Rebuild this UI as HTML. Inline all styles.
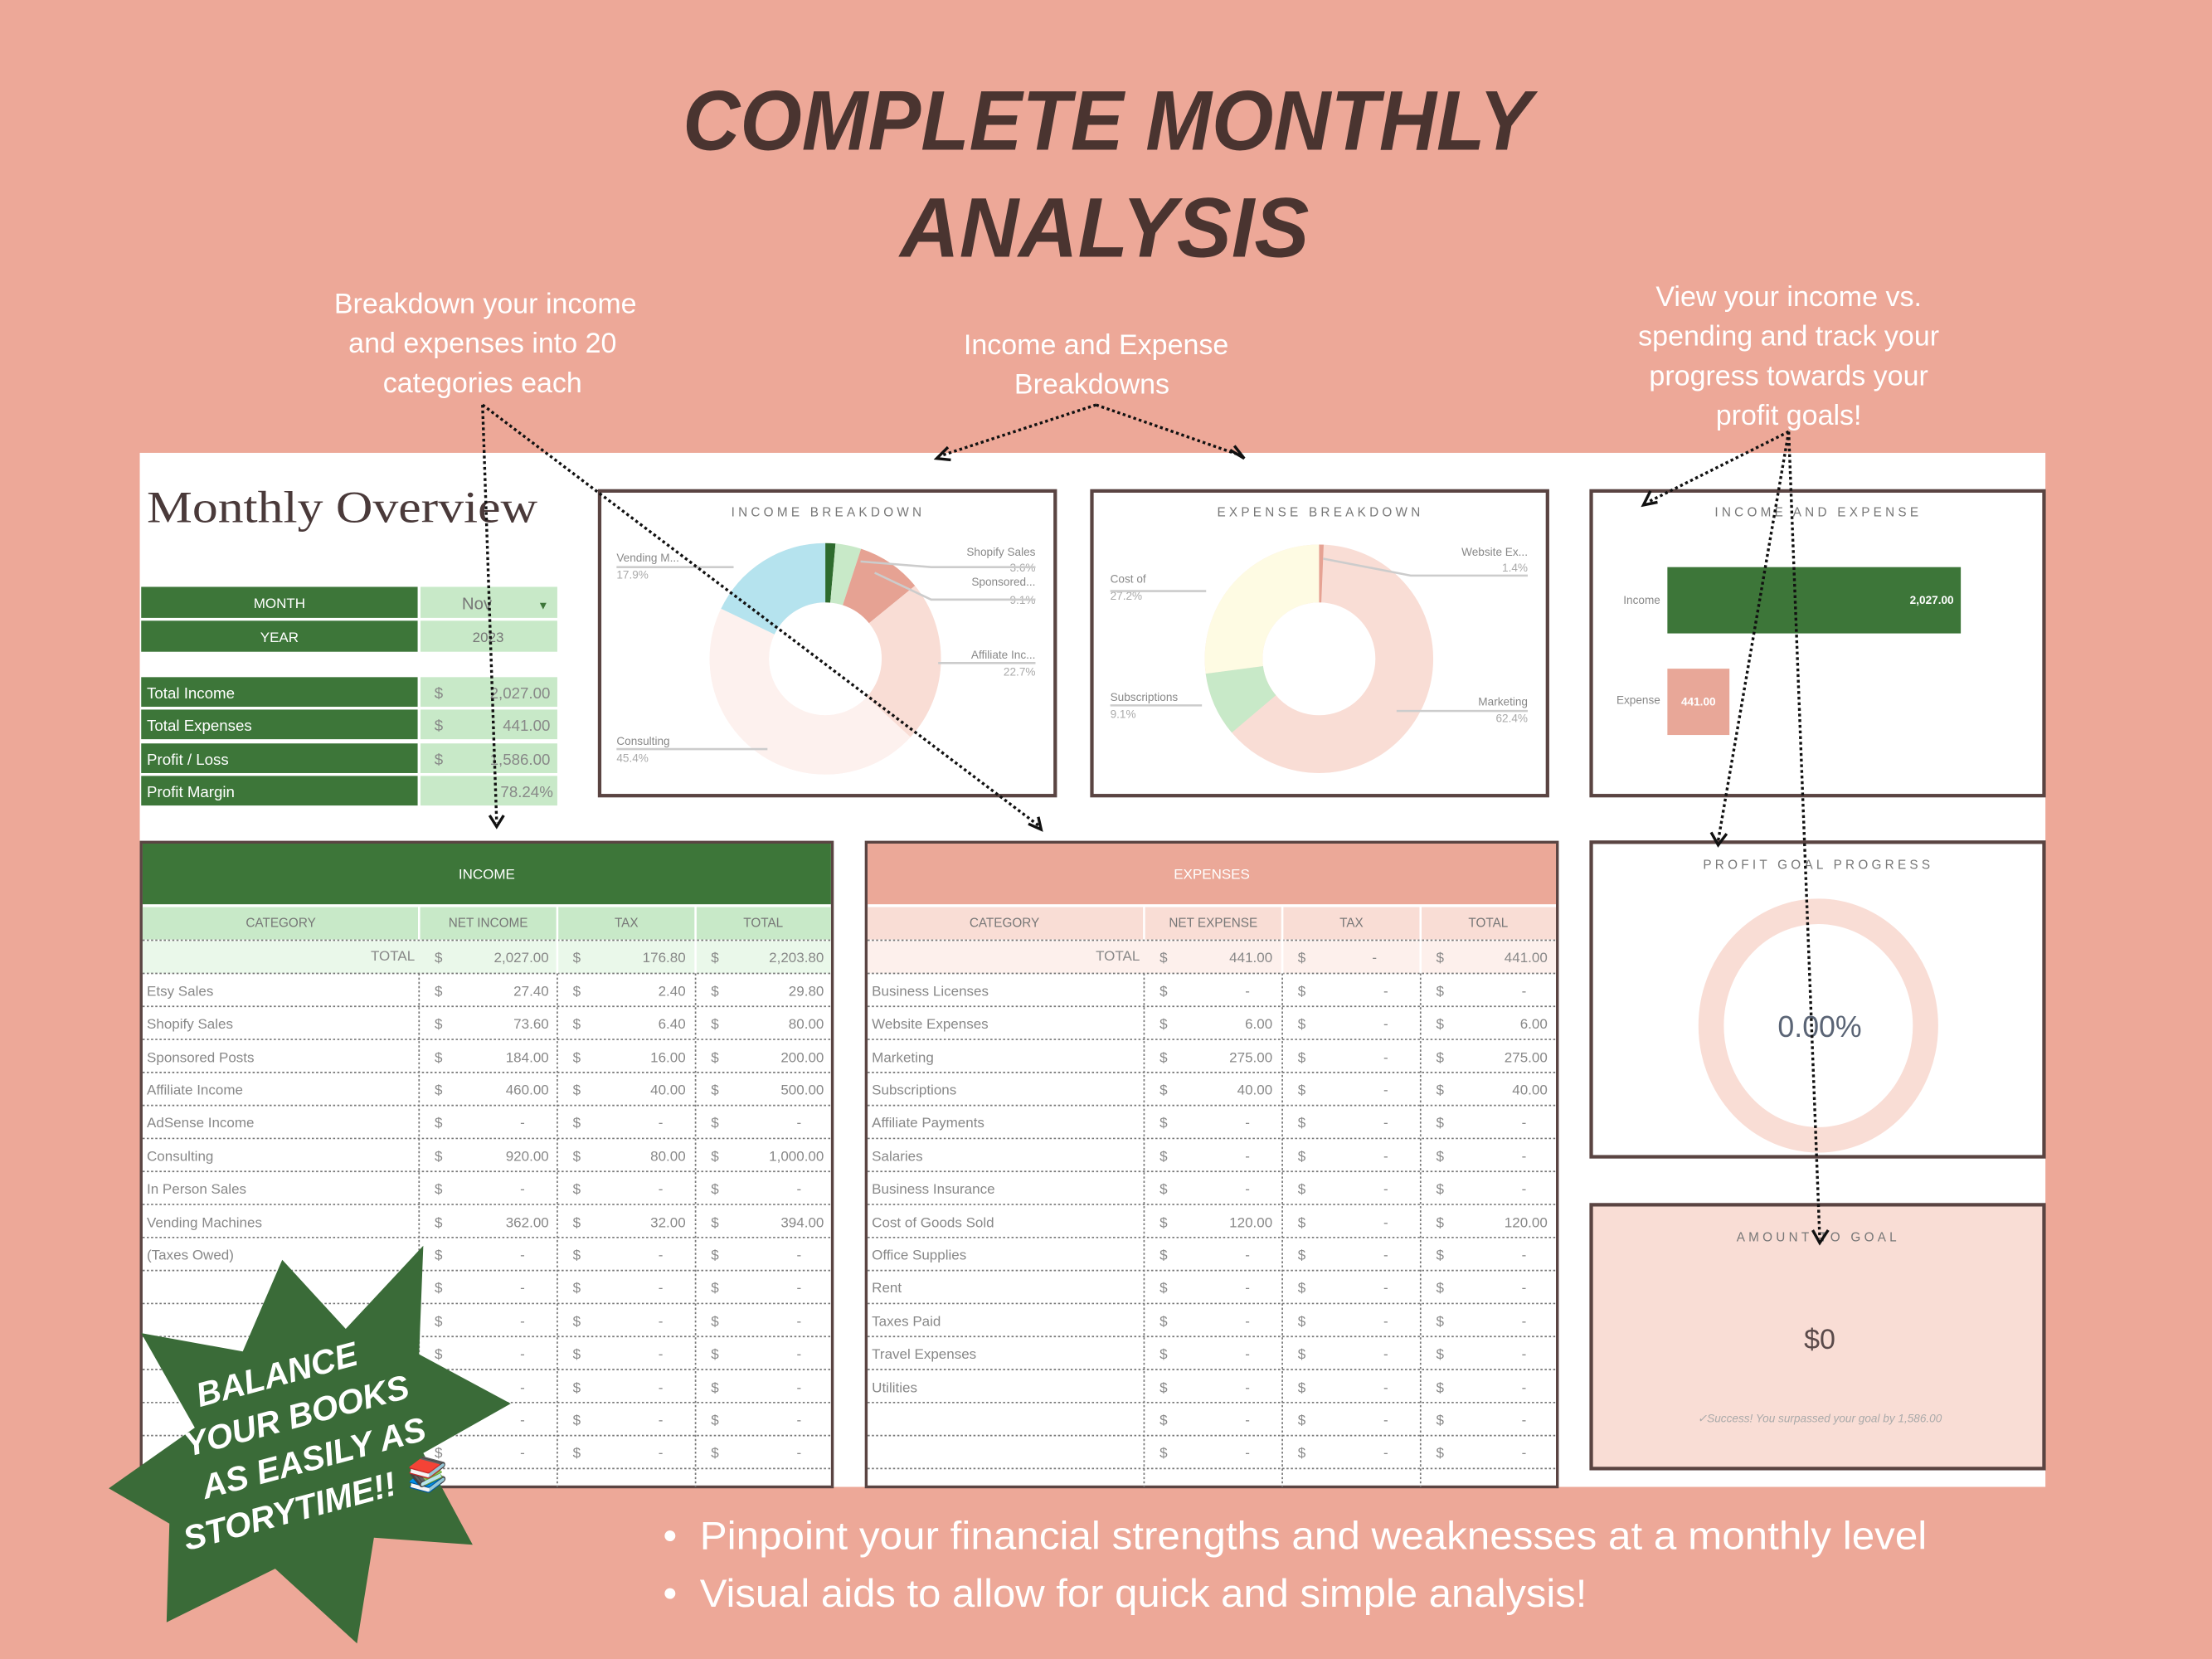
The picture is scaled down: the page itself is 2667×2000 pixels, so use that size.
<!DOCTYPE html>
<html><head><meta charset="utf-8"><style>
html,body{margin:0;padding:0;background:#EDA898;}
svg{display:block;}
text{font-family:"Liberation Sans",sans-serif;}
text.serif{font-family:"Liberation Serif",serif;}
</style></head><body>
<svg width="2667" height="2000" viewBox="0 0 1568 1176" xmlns="http://www.w3.org/2000/svg">
<rect width="1568" height="1176" fill="#EDA898"/>
<!-- Title -->
<g font-weight="bold" font-style="italic" fill="#4A3430">
<text x="484" y="106" font-size="60" textLength="602" lengthAdjust="spacingAndGlyphs">COMPLETE MONTHLY</text>
<text x="638" y="182" font-size="60" textLength="290" lengthAdjust="spacingAndGlyphs">ANALYSIS</text>
</g>
<g fill="#fff" font-size="20" text-anchor="middle">
<text x="344" y="222">Breakdown your income</text>
<text x="342" y="250">and expenses into 20</text>
<text x="342" y="278">categories each</text>
<text x="777" y="251">Income and Expense</text>
<text x="774" y="279">Breakdowns</text>
<text x="1268" y="217">View your income vs.</text>
<text x="1268" y="245">spending and track your</text>
<text x="1268" y="273">progress towards your</text>
<text x="1268" y="301">profit goals!</text>
</g>
<!-- white panel -->
<rect x="99" y="321" width="1351" height="733" fill="#fff"/>
<text class="serif" x="104" y="370" font-size="32" fill="#4a3a3a" textLength="277" lengthAdjust="spacingAndGlyphs">Monthly Overview</text>
<!-- month/year -->
<g font-size="10" fill="#fff" text-anchor="middle">
<rect x="100" y="416" width="196" height="22" fill="#3D7639"/><rect x="298" y="416" width="97" height="22" fill="#C8E9C8"/>
<rect x="100" y="440" width="196" height="22" fill="#3D7639"/><rect x="298" y="440" width="97" height="22" fill="#C8E9C8"/>
<text x="198" y="431">MONTH</text><text x="198" y="455">YEAR</text>
<text x="338" y="432" fill="#777" font-size="12">Nov</text><text x="385" y="432" fill="#3D7639" font-size="8">▼</text>
<text x="346" y="455" fill="#777">2023</text>
</g>
<g font-size="11" fill="#fff">
<rect x="100" y="480" width="196" height="21" fill="#3D7639"/><rect x="298" y="480" width="97" height="21" fill="#C8E9C8"/>
<rect x="100" y="503" width="196" height="21" fill="#3D7639"/><rect x="298" y="503" width="97" height="21" fill="#C8E9C8"/>
<rect x="100" y="527" width="196" height="21" fill="#3D7639"/><rect x="298" y="527" width="97" height="21" fill="#C8E9C8"/>
<rect x="100" y="550" width="196" height="21" fill="#3D7639"/><rect x="298" y="550" width="97" height="21" fill="#C8E9C8"/>
<text x="104" y="495">Total Income</text><text x="104" y="518">Total Expenses</text><text x="104" y="542">Profit / Loss</text><text x="104" y="565">Profit Margin</text>
<g fill="#888" text-anchor="end"><text x="314" y="495">$</text><text x="314" y="518">$</text><text x="314" y="542">$</text>
<text x="390" y="495">2,027.00</text><text x="390" y="518">441.00</text><text x="390" y="542">1,586.00</text><text x="392" y="565">78.24%</text></g>
</g>
<!-- chart boxes -->
<g fill="none" stroke="#5a4442" stroke-width="2.5">
<rect x="425" y="348" width="323" height="216" fill="#fff"/>
<rect x="774" y="348" width="323" height="216" fill="#fff"/>
<rect x="1128" y="348" width="321" height="216" fill="#fff"/>
<rect x="1128" y="597" width="321" height="223" fill="#fff"/>
<rect x="1128" y="854" width="321" height="187" fill="#F9DDD5"/>
</g>
<g font-size="9" fill="#777" text-anchor="middle" letter-spacing="2.5">
<text x="587" y="366">INCOME BREAKDOWN</text>
<text x="936" y="366">EXPENSE BREAKDOWN</text>
<text x="1289" y="366">INCOME AND EXPENSE</text>
<text x="1289" y="616">PROFIT GOAL PROGRESS</text>
<text x="1289" y="880">AMOUNT TO GOAL</text>
</g>
<!-- income donut -->
<g transform="translate(585,467) rotate(-90)" fill="none" stroke-width="42">
<circle r="61" stroke="#FDF1EE"/>
<circle r="61" stroke="#2E6B2E" stroke-dasharray="5.4 400" stroke-dashoffset="0"/>
<circle r="61" stroke="#C8E9C8" stroke-dasharray="13.8 400" stroke-dashoffset="-5.4"/>
<circle r="61" stroke="#E6A293" stroke-dasharray="34.9 400" stroke-dashoffset="-19.2"/>
<circle r="61" stroke="#F9DDD5" stroke-dasharray="87 400" stroke-dashoffset="-54.1"/>
<circle r="61" stroke="#FDF1EE" stroke-dasharray="174 400" stroke-dashoffset="-141.1"/>
<circle r="61" stroke="#B5E3EE" stroke-dasharray="68.6 400" stroke-dashoffset="-314.7"/>
</g>
<g font-size="8" fill="#888">
<text x="437" y="398">Vending M...</text><text x="437" y="410" fill="#aaa">17.9%</text>
<text x="437" y="528">Consulting</text><text x="437" y="540" fill="#aaa">45.4%</text>
<g text-anchor="end"><text x="734" y="394">Shopify Sales</text><text x="734" y="405" fill="#aaa">3.6%</text>
<text x="734" y="415">Sponsored...</text><text x="734" y="428" fill="#aaa">9.1%</text>
<text x="734" y="467">Affiliate Inc...</text><text x="734" y="479" fill="#aaa">22.7%</text></g>
</g>
<g stroke="#ccc" stroke-width="1.5" fill="none"><path d="M437 402H520"/><path d="M437 531H544"/><path d="M610 398L660 402H734"/><path d="M620 406L660 425H734"/><path d="M665 470H734"/></g>
<!-- expense donut -->
<g transform="translate(935,467) rotate(-90)" fill="none" stroke-width="41">
<circle r="60.5" stroke="#F9DDD5"/>
<circle r="60.5" stroke="#E6A293" stroke-dasharray="2.5 400" stroke-dashoffset="0"/>
<circle r="60.5" stroke="#C8E9C8" stroke-dasharray="34.6 400" stroke-dashoffset="-242.5"/>
<circle r="60.5" stroke="#FEFBE3" stroke-dasharray="103.4 400" stroke-dashoffset="-277.1"/>
</g>
<g font-size="8" fill="#888">
<text x="787" y="413">Cost of</text><text x="787" y="425" fill="#aaa">27.2%</text>
<text x="787" y="497">Subscriptions</text><text x="787" y="509" fill="#aaa">9.1%</text>
<g text-anchor="end"><text x="1083" y="394">Website Ex...</text><text x="1083" y="405" fill="#aaa">1.4%</text>
<text x="1083" y="500">Marketing</text><text x="1083" y="512" fill="#aaa">62.4%</text></g>
</g>
<g stroke="#ccc" stroke-width="1.5" fill="none"><path d="M787 419H855"/><path d="M787 500H852"/><path d="M938 396L1000 408H1083"/><path d="M990 504H1083"/></g>
<!-- bar chart -->
<rect x="1182" y="402" width="208" height="47" fill="#3D7639"/>
<rect x="1182" y="474" width="44" height="47" fill="#E8A798"/>
<g font-size="8" fill="#888" text-anchor="end"><text x="1177" y="428">Income</text><text x="1177" y="499">Expense</text></g>
<g font-size="8" fill="#fff" font-weight="bold"><text x="1385" y="428" text-anchor="end">2,027.00</text><text x="1204" y="500" text-anchor="middle">441.00</text></g>
<!-- profit goal -->
<ellipse cx="1289" cy="727" rx="76" ry="81" fill="none" stroke="#F9DDD5" stroke-width="18"/>
<text x="1290" y="735" font-size="21" fill="#5a6475" text-anchor="middle">0.00%</text>
<text x="1290" y="956" font-size="20" fill="#5a4a4a" text-anchor="middle">$0</text>
<text x="1290" y="1008" font-size="8" fill="#aaa" font-style="italic" text-anchor="middle">✓Success! You surpassed your goal by 1,586.00</text>
<!-- INCOME table -->
<rect x="100" y="597" width="490" height="457" fill="#fff" stroke="#5a4442" stroke-width="2"/>
<rect x="101" y="598" width="488" height="43" fill="#3D7639"/>
<rect x="101" y="643" width="488" height="23" fill="#C8E9C8"/>
<rect x="101" y="667" width="488" height="23" fill="#EAF8EA"/>
<text x="345" y="623" font-size="10" fill="#fff" text-anchor="middle">INCOME</text>
<g font-size="9" fill="#777" text-anchor="middle"><text x="199" y="657">CATEGORY</text><text x="346" y="657">NET INCOME</text><text x="444" y="657">TAX</text><text x="541" y="657">TOTAL</text></g>
<!-- EXPENSE table -->
<rect x="614" y="597" width="490" height="457" fill="#fff" stroke="#5a4442" stroke-width="2"/>
<rect x="615" y="598" width="488" height="43" fill="#EBA898"/>
<rect x="615" y="643" width="488" height="23" fill="#F9DDD5"/>
<rect x="615" y="667" width="488" height="23" fill="#FDF0EC"/>
<text x="859" y="623" font-size="10" fill="#fff" text-anchor="middle">EXPENSES</text>
<g font-size="9" fill="#777" text-anchor="middle"><text x="712" y="657">CATEGORY</text><text x="860" y="657">NET EXPENSE</text><text x="958" y="657">TAX</text><text x="1055" y="657">TOTAL</text></g>
<g stroke="#777" stroke-width="1" stroke-dasharray="1.5 1.5" fill="none">
<path d="M101 666.5H589M101 690H589M101 713.4H589M101 736.8H589M101 760.2H589M101 783.6H589M101 807H589M101 830.4H589M101 853.8H589M101 877.2H589M101 900.6H589M101 924H589M101 947.4H589M101 970.8H589M101 994.2H589M101 1017.6H589M101 1041H589"/>
<path d="M297 690V1054M395 666V1054M493 666V1054"/>
<path d="M615 666.5H1103M615 690H1103M615 713.4H1103M615 736.8H1103M615 760.2H1103M615 783.6H1103M615 807H1103M615 830.4H1103M615 853.8H1103M615 877.2H1103M615 900.6H1103M615 924H1103M615 947.4H1103M615 970.8H1103M615 994.2H1103M615 1017.6H1103M615 1041H1103"/>
<path d="M811 690V1054M909 666V1054M1007 666V1054"/>
</g>
<g stroke="#fff" stroke-width="1.5"><path d="M297 643V666M395 643V690M493 643V690M811 643V666M909 643V690M1007 643V690"/></g>
<g font-size="10" fill="#888">
<text x="294" y="681" text-anchor="end">TOTAL</text><text x="808" y="681" text-anchor="end">TOTAL</text>
<text x="104" y="706">Etsy Sales</text><text x="104" y="729">Shopify Sales</text><text x="104" y="753">Sponsored Posts</text><text x="104" y="776">Affiliate Income</text><text x="104" y="799">AdSense Income</text><text x="104" y="823">Consulting</text><text x="104" y="846">In Person Sales</text><text x="104" y="870">Vending Machines</text><text x="104" y="893">(Taxes Owed)</text>
<text x="618" y="706">Business Licenses</text><text x="618" y="729">Website Expenses</text><text x="618" y="753">Marketing</text><text x="618" y="776">Subscriptions</text><text x="618" y="799">Affiliate Payments</text><text x="618" y="823">Salaries</text><text x="618" y="846">Business Insurance</text><text x="618" y="870">Cost of Goods Sold</text><text x="618" y="893">Office Supplies</text><text x="618" y="916">Rent</text><text x="618" y="940">Taxes Paid</text><text x="618" y="963">Travel Expenses</text><text x="618" y="987">Utilities</text>
</g>
<g font-size="10" fill="#888" text-anchor="end">
<text x="389" y="682">2,027.00</text><text x="486" y="682">176.80</text><text x="584" y="682">2,203.80</text>
<text x="389" y="706">27.40</text><text x="486" y="706">2.40</text><text x="584" y="706">29.80</text>
<text x="389" y="729">73.60</text><text x="486" y="729">6.40</text><text x="584" y="729">80.00</text>
<text x="389" y="753">184.00</text><text x="486" y="753">16.00</text><text x="584" y="753">200.00</text>
<text x="389" y="776">460.00</text><text x="486" y="776">40.00</text><text x="584" y="776">500.00</text>
<text x="389" y="823">920.00</text><text x="486" y="823">80.00</text><text x="584" y="823">1,000.00</text>
<text x="389" y="870">362.00</text><text x="486" y="870">32.00</text><text x="584" y="870">394.00</text>
<text x="902" y="682">441.00</text><text x="976" y="682">-</text><text x="1097" y="682">441.00</text>
<text x="902" y="729">6.00</text><text x="1097" y="729">6.00</text>
<text x="902" y="753">275.00</text><text x="1097" y="753">275.00</text>
<text x="902" y="776">40.00</text><text x="1097" y="776">40.00</text>
<text x="902" y="870">120.00</text><text x="1097" y="870">120.00</text>
</g>
<g font-size="10" fill="#888">
<text x="308" y="682">$</text><text x="406" y="682">$</text><text x="504" y="682">$</text>
<text x="822" y="682">$</text><text x="920" y="682">$</text><text x="1018" y="682">$</text>
</g>
<g font-size="10" fill="#888">
<g id="dcol">
<text x="308" y="706">$</text><text x="308" y="729">$</text><text x="308" y="753">$</text><text x="308" y="776">$</text><text x="308" y="799">$</text><text x="308" y="823">$</text><text x="308" y="846">$</text><text x="308" y="870">$</text><text x="308" y="893">$</text><text x="308" y="916">$</text><text x="308" y="940">$</text><text x="308" y="963">$</text><text x="308" y="987">$</text><text x="308" y="1010">$</text><text x="308" y="1033">$</text>
</g>
<use href="#dcol" x="98"/><use href="#dcol" x="196"/><use href="#dcol" x="514"/><use href="#dcol" x="612"/><use href="#dcol" x="710"/>
</g>
<g font-size="10" fill="#888" text-anchor="end">
<text x="372" y="799">-</text><text x="470" y="799">-</text><text x="568" y="799">-</text>
<text x="372" y="846">-</text><text x="470" y="846">-</text><text x="568" y="846">-</text>
<text x="372" y="893">-</text><text x="470" y="893">-</text><text x="568" y="893">-</text>
<text x="372" y="916">-</text><text x="470" y="916">-</text><text x="568" y="916">-</text>
<text x="372" y="940">-</text><text x="470" y="940">-</text><text x="568" y="940">-</text>
<text x="372" y="963">-</text><text x="470" y="963">-</text><text x="568" y="963">-</text>
<text x="372" y="987">-</text><text x="470" y="987">-</text><text x="568" y="987">-</text>
<text x="372" y="1010">-</text><text x="470" y="1010">-</text><text x="568" y="1010">-</text>
<text x="372" y="1033">-</text><text x="470" y="1033">-</text><text x="568" y="1033">-</text>
<text x="886" y="706">-</text><text x="984" y="706">-</text><text x="1082" y="706">-</text>
<text x="984" y="729">-</text><text x="984" y="753">-</text><text x="984" y="776">-</text>
<text x="886" y="799">-</text><text x="984" y="799">-</text><text x="1082" y="799">-</text>
<text x="886" y="823">-</text><text x="984" y="823">-</text><text x="1082" y="823">-</text>
<text x="886" y="846">-</text><text x="984" y="846">-</text><text x="1082" y="846">-</text>
<text x="984" y="870">-</text>
<text x="886" y="893">-</text><text x="984" y="893">-</text><text x="1082" y="893">-</text>
<text x="886" y="916">-</text><text x="984" y="916">-</text><text x="1082" y="916">-</text>
<text x="886" y="940">-</text><text x="984" y="940">-</text><text x="1082" y="940">-</text>
<text x="886" y="963">-</text><text x="984" y="963">-</text><text x="1082" y="963">-</text>
<text x="886" y="987">-</text><text x="984" y="987">-</text><text x="1082" y="987">-</text>
<text x="886" y="1010">-</text><text x="984" y="1010">-</text><text x="1082" y="1010">-</text>
<text x="886" y="1033">-</text><text x="984" y="1033">-</text><text x="1082" y="1033">-</text>
</g>
<!-- arrows -->
<g stroke="#111" stroke-width="2" stroke-dasharray="2 2" fill="none">
<path d="M342 287L352 583"/>
<path d="M342 287L736 585"/>
<path d="M777 287L667 323"/>
<path d="M777 287L880 323"/>
<path d="M1268 306L1168 356"/>
<path d="M1268 306L1218 596"/>
<path d="M1268 306L1290 878"/>
</g>
<g fill="none" stroke="#111" stroke-width="2">
<path d="M347 578L352 586L357 578"/><path d="M729 584L738 588L736 579"/>
<path d="M672 317L664 325L674 326"/><path d="M872 319L882 325L875 316"/>
<path d="M1170 348L1165 358L1175 356"/><path d="M1213 590L1218 599L1224 591"/><path d="M1285 872L1290 881L1296 872"/>
</g>
<!-- star badge -->
<polygon fill="#3A6B38" points="300,883 297,960 362,995 300,1030 335,1095 265,1090 253,1165 195,1112 118,1150 120,1080 77,1055 138,1012 100,945 172,958 200,893 245,942"/>
<g font-weight="bold" font-style="italic" fill="#fff" font-size="24" text-anchor="middle" transform="rotate(-15 220 1025)">
<text x="210" y="978">BALANCE</text>
<text x="216" y="1010">YOUR BOOKS</text>
<text x="220" y="1042">AS EASILY AS</text>
<text x="212" y="1074">STORYTIME!! 📚</text>
</g>
<!-- bullets -->
<g fill="#fff" font-size="28">
<text x="470" y="1098">•</text><text x="496" y="1098" textLength="870" lengthAdjust="spacingAndGlyphs">Pinpoint your financial strengths and weaknesses at a monthly level</text>
<text x="470" y="1139">•</text><text x="496" y="1139" textLength="629" lengthAdjust="spacingAndGlyphs">Visual aids to allow for quick and simple analysis!</text>
</g>
</svg>
</body></html>
